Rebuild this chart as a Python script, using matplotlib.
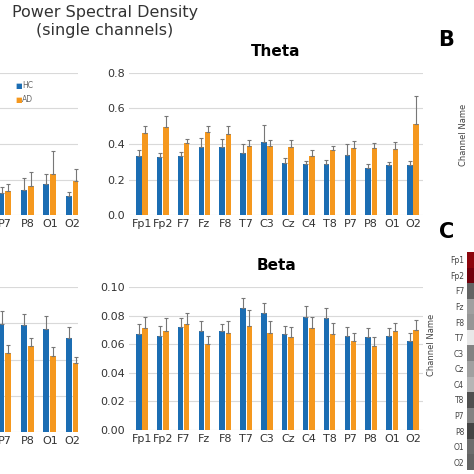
import matplotlib
matplotlib.use("Agg")
import matplotlib.pyplot as plt
import numpy as np

channels = ["Fp1","Fp2","F7","Fz","F8","T7","C3","Cz","C4","T8","P7","P8","O1","O2"]
theta_hc = [0.335,0.325,0.33,0.385,0.385,0.35,0.41,0.295,0.285,0.285,0.34,0.265,0.28,0.28]
theta_hc_top = [0.365,0.35,0.355,0.435,0.43,0.40,0.505,0.32,0.305,0.31,0.40,0.29,0.30,0.305]
theta_ad = [0.46,0.495,0.405,0.465,0.455,0.39,0.39,0.385,0.335,0.365,0.38,0.375,0.37,0.515]
theta_ad_top = [0.50,0.56,0.43,0.50,0.50,0.42,0.42,0.425,0.365,0.39,0.415,0.405,0.41,0.67]
beta_hc = [0.067,0.066,0.072,0.069,0.069,0.085,0.082,0.067,0.079,0.078,0.066,0.065,0.066,0.062]
beta_hc_top = [0.074,0.073,0.078,0.076,0.074,0.092,0.089,0.073,0.087,0.085,0.072,0.071,0.071,0.068]
beta_ad = [0.071,0.069,0.074,0.060,0.068,0.073,0.068,0.065,0.071,0.067,0.062,0.059,0.069,0.070]
beta_ad_top = [0.079,0.078,0.082,0.066,0.076,0.084,0.076,0.072,0.079,0.075,0.068,0.065,0.075,0.077]
# partially visible left panels (upper: 0..0.8 scale, lower: 0..4 grid units)
left_ch = ["P7","P8","O1","O2"]
ltop_hc = [0.124,0.14,0.174,0.106]
ltop_hc_top = [0.16,0.21,0.23,0.128]
ltop_ad = [0.136,0.166,0.23,0.194]
ltop_ad_top = [0.176,0.24,0.36,0.26]
lbot_hc = [2.97,2.95,2.83,2.6]
lbot_hc_top = [3.33,3.25,3.19,2.9]
lbot_ad = [2.19,2.37,2.1,1.9]
lbot_ad_top = [2.39,2.58,2.34,2.07]
heat_vals = [0.95,0.9,0.3,0.6,0.55,0.95,0.45,0.6,0.7,0.2,0.45,0.15,0.35,0.3]

BLUE = "#1b6db3"
ORANGE = "#f5981e"
W = H = 474
fig = plt.figure(figsize=(4.74,4.74), dpi=100)

def ax_px(x0, y0, x1, y1):
    return fig.add_axes([x0/W, 1-y1/H, (x1-x0)/W, (y1-y0)/H])

def bars(ax, x, hc, hct, ad, adt, bw=0.26, off=0.15):
    x = np.asarray(x, float)
    hc = np.array(hc); ad = np.array(ad)
    ax.bar(x-off, hc, bw, color=BLUE, zorder=2)
    ax.bar(x+off, ad, bw, color=ORANGE, zorder=2)
    ax.errorbar(x-off, hc, yerr=[np.zeros_like(hc), np.array(hct)-hc], fmt="none",
                ecolor="#777777", elinewidth=0.8, capsize=1.5, capthick=0.8, zorder=3)
    ax.errorbar(x+off, ad, yerr=[np.zeros_like(ad), np.array(adt)-ad], fmt="none",
                ecolor="#777777", elinewidth=0.8, capsize=1.5, capthick=0.8, zorder=3)

def style(ax):
    for s in ax.spines.values():
        s.set_visible(False)
    ax.grid(axis="y", color="#d9d9d9", lw=0.8, zorder=0)
    ax.tick_params(length=0, labelsize=8, colors="#333333", pad=3)
    ax.set_axisbelow(True)

x = np.arange(len(channels))
# Theta
ax = ax_px(129, 73, 423, 215)
bars(ax, x, theta_hc, theta_hc_top, theta_ad, theta_ad_top)
style(ax)
ax.set_ylim(0, 0.8); ax.set_yticks(np.arange(0, 0.81, 0.2))
ax.set_yticklabels([f"{v:.1f}" for v in np.arange(0, 0.81, 0.2)])
ax.set_xlim(-0.62, 13.48); ax.set_xticks(x); ax.set_xticklabels(channels)
ax.set_title("Theta", fontsize=11, fontweight="bold", pad=12)

# Beta
ax = ax_px(129, 287, 423, 430)
bars(ax, x, beta_hc, beta_hc_top, beta_ad, beta_ad_top)
style(ax)
ax.set_ylim(0, 0.10); ax.set_yticks(np.arange(0, 0.101, 0.02))
ax.set_yticklabels([f"{v:.2f}" for v in np.arange(0, 0.101, 0.02)])
ax.set_xlim(-0.62, 13.48); ax.set_xticks(x); ax.set_xticklabels(channels)
ax.set_title("Beta", fontsize=11, fontweight="bold", pad=12)

# Left partial panels
xl = np.arange(10, 14)
ax = ax_px(0, 73, 78, 215)
bars(ax, xl, ltop_hc, ltop_hc_top, ltop_ad, ltop_ad_top)
style(ax)
ax.set_ylim(0, 0.8); ax.set_yticks(np.arange(0, 0.81, 0.2)); ax.set_yticklabels([])
ax.set_xlim(9.78, 13.26); ax.set_xticks(xl); ax.set_xticklabels(left_ch)
ax = ax_px(0, 287, 78, 432)
bars(ax, xl, lbot_hc, lbot_hc_top, lbot_ad, lbot_ad_top)
style(ax)
ax.set_ylim(0, 4); ax.set_yticks(np.arange(0, 4.1, 1)); ax.set_yticklabels([])
ax.set_xlim(9.78, 13.26); ax.set_xticks(xl); ax.set_xticklabels(left_ch)

# legend
fig.text(15/W, 1-86/H, "■", color=BLUE, fontsize=5, va="center")
fig.text(22/W, 1-86/H, "HC", color="#666666", fontsize=5.5, va="center")
fig.text(15/W, 1-100/H, "■", color=ORANGE, fontsize=5, va="center")
fig.text(22/W, 1-100/H, "AD", color="#666666", fontsize=5.5, va="center")

fig.text(105/W, 1-21/H, "Power Spectral Density\n(single channels)", ha="center",
         va="center", fontsize=11.5, color="#333333", linespacing=1.25)

# right side (panels B/C fragments)
fig.text(446/W, 1-40/H, "B", fontsize=15, fontweight="bold", ha="center", va="center")
fig.text(463/W, 1-135/H, "Channel Name", fontsize=6, rotation=90, ha="center", va="center", color="#444444")
fig.text(447/W, 1-232/H, "C", fontsize=15, fontweight="bold", ha="center", va="center")
fig.text(432/W, 1-345/H, "Channel Name", fontsize=6, rotation=90, ha="center", va="center", color="#444444")
hax = ax_px(467, 252, 474, 470)
colors = []
for i, v in enumerate(heat_vals):
    if i < 2:
        colors.append([0.55, 0.02, 0.05] if i == 0 else [0.45, 0.0, 0.05])
    else:
        g = 0.15 + 0.8*v
        colors.append([g, g, g])
hax.imshow(np.array(colors)[:, None, :], aspect="auto")
hax.set_xticks([]); hax.set_yticks(range(len(channels)))
hax.set_yticklabels(channels, fontsize=5.5, color="#444444")
hax.tick_params(length=0, pad=2)
for s in hax.spines.values():
    s.set_visible(False)

fig.savefig("out.png", dpi=100)
